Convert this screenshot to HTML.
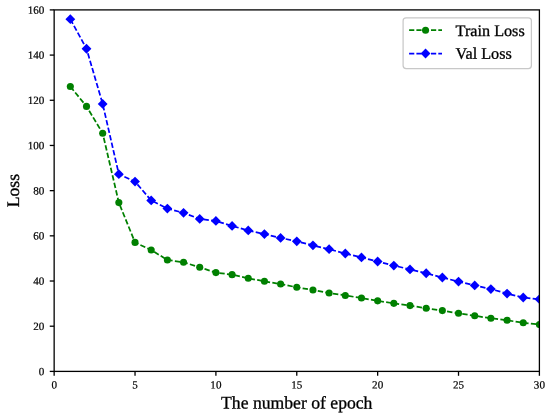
<!DOCTYPE html>
<html><head><meta charset="utf-8"><title>Loss</title>
<style>
html,body{margin:0;padding:0;background:#fff;}
svg{display:block;font-family:"Liberation Serif",serif;}
</style></head><body>
<svg width="550" height="417" viewBox="0 0 550 417">
<rect width="550" height="417" fill="#fff"/>
<defs><clipPath id="ax"><rect x="54.15" y="9.90" width="485.25" height="361.50"/></clipPath></defs>
<g stroke="#000" stroke-width="1.3">
<line x1="54.15" y1="371.40" x2="54.15" y2="375.80"/>
<line x1="135.03" y1="371.40" x2="135.03" y2="375.80"/>
<line x1="215.90" y1="371.40" x2="215.90" y2="375.80"/>
<line x1="296.77" y1="371.40" x2="296.77" y2="375.80"/>
<line x1="377.65" y1="371.40" x2="377.65" y2="375.80"/>
<line x1="458.52" y1="371.40" x2="458.52" y2="375.80"/>
<line x1="539.40" y1="371.40" x2="539.40" y2="375.80"/>
<line x1="49.75" y1="371.40" x2="54.15" y2="371.40"/>
<line x1="49.75" y1="326.21" x2="54.15" y2="326.21"/>
<line x1="49.75" y1="281.02" x2="54.15" y2="281.02"/>
<line x1="49.75" y1="235.84" x2="54.15" y2="235.84"/>
<line x1="49.75" y1="190.65" x2="54.15" y2="190.65"/>
<line x1="49.75" y1="145.46" x2="54.15" y2="145.46"/>
<line x1="49.75" y1="100.27" x2="54.15" y2="100.27"/>
<line x1="49.75" y1="55.09" x2="54.15" y2="55.09"/>
<line x1="49.75" y1="9.90" x2="54.15" y2="9.90"/>
</g>
<g fill="#000" stroke="#000" stroke-width="0.20">
<text x="54.15" y="388.40" font-size="11.10px" text-anchor="middle" transform="rotate(0.03 54.15 388.40)">0</text>
<text x="135.03" y="388.40" font-size="11.10px" text-anchor="middle" transform="rotate(0.03 135.03 388.40)">5</text>
<text x="215.90" y="388.40" font-size="11.10px" text-anchor="middle" transform="rotate(0.03 215.90 388.40)">10</text>
<text x="296.77" y="388.40" font-size="11.10px" text-anchor="middle" transform="rotate(0.03 296.77 388.40)">15</text>
<text x="377.65" y="388.40" font-size="11.10px" text-anchor="middle" transform="rotate(0.03 377.65 388.40)">20</text>
<text x="458.52" y="388.40" font-size="11.10px" text-anchor="middle" transform="rotate(0.03 458.52 388.40)">25</text>
<text x="539.40" y="388.40" font-size="11.10px" text-anchor="middle" transform="rotate(0.03 539.40 388.40)">30</text>
<text x="44.40" y="375.15" font-size="11.10px" text-anchor="end" transform="rotate(0.03 44.40 375.15)">0</text>
<text x="44.40" y="329.96" font-size="11.10px" text-anchor="end" transform="rotate(0.03 44.40 329.96)">20</text>
<text x="44.40" y="284.77" font-size="11.10px" text-anchor="end" transform="rotate(0.03 44.40 284.77)">40</text>
<text x="44.40" y="239.59" font-size="11.10px" text-anchor="end" transform="rotate(0.03 44.40 239.59)">60</text>
<text x="44.40" y="194.40" font-size="11.10px" text-anchor="end" transform="rotate(0.03 44.40 194.40)">80</text>
<text x="44.40" y="149.21" font-size="11.10px" text-anchor="end" transform="rotate(0.03 44.40 149.21)">100</text>
<text x="44.40" y="104.02" font-size="11.10px" text-anchor="end" transform="rotate(0.03 44.40 104.02)">120</text>
<text x="44.40" y="58.84" font-size="11.10px" text-anchor="end" transform="rotate(0.03 44.40 58.84)">140</text>
<text x="44.40" y="13.65" font-size="11.10px" text-anchor="end" transform="rotate(0.03 44.40 13.65)">160</text>
</g>
<g clip-path="url(#ax)"><polyline fill="none" stroke="#008000" stroke-width="1.75" stroke-dasharray="5.4 2.3" points="70.33,86.49 86.50,106.38 102.68,133.26 118.85,202.62 135.03,242.39 151.20,250.03 167.38,259.97 183.55,262.23 199.73,267.31 215.90,272.62 232.08,274.65 248.25,278.27 264.43,281.32 280.60,284.03 296.77,287.31 312.95,290.02 329.12,292.95 345.30,295.44 361.47,298.04 377.65,300.86 393.82,303.35 410.00,305.61 426.18,308.32 442.35,310.58 458.52,313.29 474.70,315.77 490.88,318.26 507.05,320.29 523.23,322.78 539.40,324.59"/><g fill="#008000"><circle cx="70.33" cy="86.49" r="3.55"/><circle cx="86.50" cy="106.38" r="3.55"/><circle cx="102.68" cy="133.26" r="3.55"/><circle cx="118.85" cy="202.62" r="3.55"/><circle cx="135.03" cy="242.39" r="3.55"/><circle cx="151.20" cy="250.03" r="3.55"/><circle cx="167.38" cy="259.97" r="3.55"/><circle cx="183.55" cy="262.23" r="3.55"/><circle cx="199.73" cy="267.31" r="3.55"/><circle cx="215.90" cy="272.62" r="3.55"/><circle cx="232.08" cy="274.65" r="3.55"/><circle cx="248.25" cy="278.27" r="3.55"/><circle cx="264.43" cy="281.32" r="3.55"/><circle cx="280.60" cy="284.03" r="3.55"/><circle cx="296.77" cy="287.31" r="3.55"/><circle cx="312.95" cy="290.02" r="3.55"/><circle cx="329.12" cy="292.95" r="3.55"/><circle cx="345.30" cy="295.44" r="3.55"/><circle cx="361.47" cy="298.04" r="3.55"/><circle cx="377.65" cy="300.86" r="3.55"/><circle cx="393.82" cy="303.35" r="3.55"/><circle cx="410.00" cy="305.61" r="3.55"/><circle cx="426.18" cy="308.32" r="3.55"/><circle cx="442.35" cy="310.58" r="3.55"/><circle cx="458.52" cy="313.29" r="3.55"/><circle cx="474.70" cy="315.77" r="3.55"/><circle cx="490.88" cy="318.26" r="3.55"/><circle cx="507.05" cy="320.29" r="3.55"/><circle cx="523.23" cy="322.78" r="3.55"/><circle cx="539.40" cy="324.59" r="3.55"/></g></g>
<g clip-path="url(#ax)"><polyline fill="none" stroke="#0000ff" stroke-width="1.75" stroke-dasharray="5.4 2.3" points="70.33,19.16 86.50,48.76 102.68,103.89 118.85,174.16 135.03,181.61 151.20,200.41 167.38,208.54 183.55,212.84 199.73,218.94 215.90,220.97 232.08,225.94 248.25,230.46 264.43,234.08 280.60,237.92 296.77,241.31 312.95,245.37 329.12,249.21 345.30,253.51 361.47,257.41 377.65,261.48 393.82,265.55 410.00,269.39 426.18,273.23 442.35,277.52 458.52,281.59 474.70,285.43 490.88,289.05 507.05,293.56 523.23,297.52 539.40,299.21"/><g fill="#0000ff"><path d="M70.33 14.26L75.23 19.16L70.33 24.06L65.42 19.16Z"/><path d="M86.50 43.86L91.40 48.76L86.50 53.66L81.60 48.76Z"/><path d="M102.68 98.99L107.58 103.89L102.68 108.79L97.78 103.89Z"/><path d="M118.85 169.26L123.75 174.16L118.85 179.06L113.95 174.16Z"/><path d="M135.03 176.71L139.93 181.61L135.03 186.51L130.12 181.61Z"/><path d="M151.20 195.51L156.10 200.41L151.20 205.31L146.30 200.41Z"/><path d="M167.38 203.64L172.28 208.54L167.38 213.44L162.47 208.54Z"/><path d="M183.55 207.94L188.45 212.84L183.55 217.74L178.65 212.84Z"/><path d="M199.73 214.04L204.63 218.94L199.73 223.84L194.83 218.94Z"/><path d="M215.90 216.07L220.80 220.97L215.90 225.87L211.00 220.97Z"/><path d="M232.08 221.04L236.98 225.94L232.08 230.84L227.18 225.94Z"/><path d="M248.25 225.56L253.15 230.46L248.25 235.36L243.35 230.46Z"/><path d="M264.43 229.18L269.32 234.08L264.43 238.98L259.53 234.08Z"/><path d="M280.60 233.02L285.50 237.92L280.60 242.82L275.70 237.92Z"/><path d="M296.77 236.41L301.67 241.31L296.77 246.21L291.88 241.31Z"/><path d="M312.95 240.47L317.85 245.37L312.95 250.27L308.05 245.37Z"/><path d="M329.12 244.31L334.02 249.21L329.12 254.11L324.23 249.21Z"/><path d="M345.30 248.61L350.20 253.51L345.30 258.41L340.40 253.51Z"/><path d="M361.47 252.51L366.37 257.41L361.47 262.31L356.57 257.41Z"/><path d="M377.65 256.58L382.55 261.48L377.65 266.38L372.75 261.48Z"/><path d="M393.82 260.65L398.72 265.55L393.82 270.45L388.93 265.55Z"/><path d="M410.00 264.49L414.90 269.39L410.00 274.29L405.10 269.39Z"/><path d="M426.18 268.33L431.07 273.23L426.18 278.13L421.28 273.23Z"/><path d="M442.35 272.62L447.25 277.52L442.35 282.42L437.45 277.52Z"/><path d="M458.52 276.69L463.42 281.59L458.52 286.49L453.62 281.59Z"/><path d="M474.70 280.53L479.60 285.43L474.70 290.33L469.80 285.43Z"/><path d="M490.88 284.15L495.77 289.05L490.88 293.95L485.98 289.05Z"/><path d="M507.05 288.66L511.95 293.56L507.05 298.46L502.15 293.56Z"/><path d="M523.23 292.62L528.12 297.52L523.23 302.42L518.33 297.52Z"/><path d="M539.40 294.31L544.30 299.21L539.40 304.11L534.50 299.21Z"/></g></g>
<rect x="54.15" y="9.90" width="485.25" height="361.50" fill="none" stroke="#000" stroke-width="1.3"/>
<g fill="#000" stroke="#000" stroke-width="0.30">
<text x="296.77" y="408.60" font-size="17.65px" text-anchor="middle" transform="rotate(0.03 296.77 408.60)">The number of epoch</text>
<text x="19.10" y="190.65" font-size="17.65px" text-anchor="middle" transform="rotate(-89.97 19.10 190.65)">Loss</text>
</g>
<rect x="403.10" y="17.80" width="128.30" height="50.70" rx="3" ry="3" fill="#fff" fill-opacity="0.8" stroke="#c8c8c8" stroke-width="1.25"/>
<line x1="409.1" y1="30.20" x2="442.0" y2="30.20" stroke="#008000" stroke-width="1.75" stroke-dasharray="5.2 2.1"/>
<g fill="#008000"><circle cx="425.55" cy="30.20" r="3.55"/></g>
<g fill="#000" stroke="#000" stroke-width="0.30"><text x="455.60" y="35.95" font-size="16.20px" text-anchor="start" transform="rotate(0.03 455.60 35.95)">Train Loss</text></g>
<line x1="409.1" y1="53.50" x2="442.0" y2="53.50" stroke="#0000ff" stroke-width="1.75" stroke-dasharray="5.2 2.1"/>
<g fill="#0000ff"><path d="M425.55 48.60L430.45 53.50L425.55 58.40L420.65 53.50Z"/></g>
<g fill="#000" stroke="#000" stroke-width="0.30"><text x="455.60" y="58.85" font-size="16.20px" text-anchor="start" transform="rotate(0.03 455.60 58.85)">Val Loss</text></g>
</svg></body></html>
